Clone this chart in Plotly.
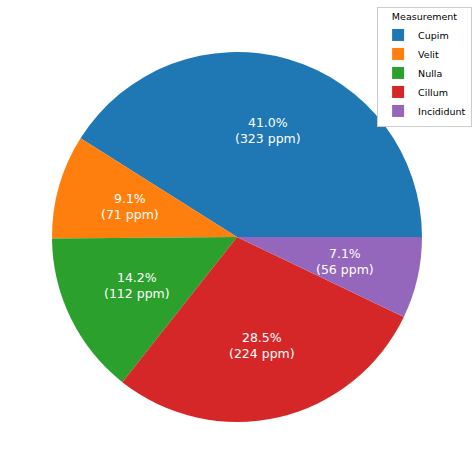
import numpy as np
import plotly.graph_objects as go

labels = ["Cupim", "Velit", "Nulla", "Cillum", "Incididunt"]
values = [322.6, 71.4, 111.8, 224.2, 55.9]
colors = ["#1f77b4", "#ff7f0e", "#2ca02c", "#d62728", "#9467bd"]

W = 474
dom = [52 / W, 422 / W]

# first slice starts at 3 o'clock and runs counterclockwise (plotly anchors
# the first slice's clockwise edge at `rotation` when counterclockwise)
vals = np.array(values)
fracs = vals / vals.sum()
rotation = 90 - 360 * fracs[0]

fig = go.Figure(go.Pie(
    labels=labels, values=values, sort=False,
    direction="counterclockwise", rotation=rotation,
    marker=dict(colors=colors, line=dict(width=0)),
    textinfo="none",
    domain=dict(x=dom, y=dom),
    hoverinfo="label+value+percent",
))

# labels at 60% of the radius along each slice's mid-angle
cx = cy = (dom[0] + dom[1]) / 2
r = (dom[1] - dom[0]) / 2
ends = np.cumsum(fracs) * 2 * np.pi
mids = ends - fracs * np.pi
for f, v, a in zip(fracs, vals, mids):
    fig.add_annotation(
        x=cx + 0.6 * r * np.cos(a), y=cy + 0.6 * r * np.sin(a),
        xref="paper", yref="paper", xanchor="center", yanchor="middle",
        showarrow=False,
        text=f"{f*100:.1f}%<br>({v:.0f} ppm)", align="center",
        font=dict(family="DejaVu Sans", size=12.5, color="white"),
    )

fig.update_layout(
    width=W, height=W, margin=dict(l=0, r=0, t=0, b=0),
    paper_bgcolor="white", plot_bgcolor="white",
    font=dict(family="DejaVu Sans", size=10, color="black"),
    legend=dict(
        title=dict(text="Measurement", side="top center", font=dict(size=9.5)),
        x=0.996, y=0.985, xanchor="right", yanchor="top",
        bordercolor="#cccccc", borderwidth=1, bgcolor="white",
        font=dict(size=9.5), itemwidth=30, tracegroupgap=0,
    ),
)
fig.write_html("out.html")
